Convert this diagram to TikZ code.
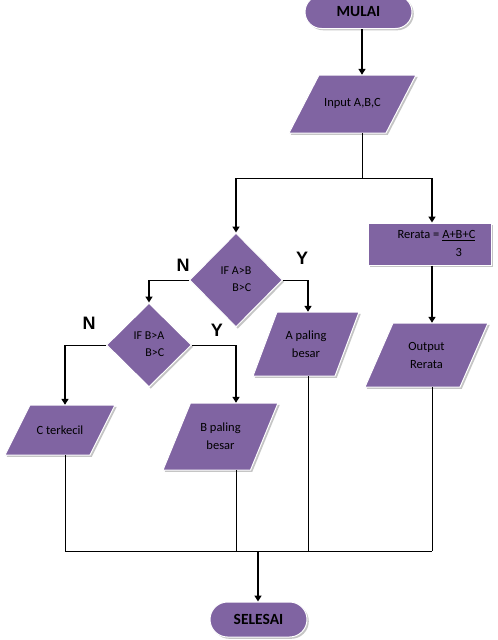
\documentclass[tikz,border=0pt]{standalone}
\usepackage{fontspec}
\setmainfont{Carlito}
\newfontfamily\lblfont{Liberation Sans}
\usetikzlibrary{shapes.geometric,shapes.misc,arrows.meta,shadows}
\definecolor{vio}{HTML}{8064A2}
% name, cx, cy, edge length, height, slant, text
\newcommand\parabox[7]{%
  \path[box] ({#2-(#4+#6)/2},{#3+#5/2}) -- ({#2+(#4-#6)/2},{#3+#5/2})
     -- ({#2+(#4+#6)/2},{#3-#5/2}) -- ({#2-(#4-#6)/2},{#3-#5/2}) -- cycle;
  \node[ptext, minimum width=#4pt, minimum height=#5pt] (#1) at (#2,#3) {#7};
}
\begin{document}
\begin{tikzpicture}[x=1pt,y=-1pt,
  box/.style={fill=vio, draw=white, line width=1pt,
    drop shadow={shadow xshift=1.8pt, shadow yshift=-1.8pt, fill=black!45},
    font=\fontsize{12.5}{18}\selectfont, align=center, inner sep=0pt},
  ptext/.style={font=\fontsize{12.5}{18}\selectfont, align=center, inner sep=0pt},
  term/.style={box, rounded rectangle, font=\fontsize{15.5}{18}\selectfont\bfseries},
  dia/.style={box, diamond, aspect=1, font=\fontsize{12}{17}\selectfont},
  rect/.style={box, rectangle},
  ln/.style={draw=black, line width=0.8pt},
  arr/.style={draw=black, line width=1.6pt, -{Triangle[length=6pt,width=7pt]}},
  yn/.style={font=\lblfont\bfseries\fontsize{18}{18}\selectfont, inner sep=0pt}
]
\useasboundingbox (0,0) rectangle (498,640);

% nodes
\node[term, minimum width=107pt, minimum height=33pt] (mulai) at (358.5,12) {MULAI};
\parabox{input}{352.5}{104}{97}{58}{30}{\raisebox{4pt}{Input A,B,C}}
\node[dia, minimum width=93pt, minimum height=94pt] (d1) at (236,280)
  {\raisebox{7pt}{\begin{tabular}{@{}r@{}}IF A>B\\B>C\end{tabular}}};
\node[rect, minimum width=123pt, minimum height=42pt] (rer) at (429.5,244)
  {\hspace*{14pt}Rerata = \begin{tabular}[t]{@{}c@{}}\underline{A+B+C}\\3\end{tabular}};
\node[dia, minimum width=85pt, minimum height=84pt] (d2) at (149,345)
  {\raisebox{6pt}{\begin{tabular}{@{}r@{}}IF B>A\\B>C\end{tabular}}};
\parabox{pa}{306}{344}{82}{64}{24}{A paling\\besar}
\parabox{out}{426.5}{355}{95}{64}{28}{Output\\Rerata}
\parabox{pc}{60}{430}{85}{50}{25}{C terkecil}
\parabox{pb}{220.5}{436.5}{87.5}{67}{27.5}{B paling\\besar}
\node[term, minimum width=97pt, minimum height=35pt] (sel) at (258.5,619.5) {SELESAI};

% labels
\node[yn] (n1) at (183,265) {N};
\node[yn] (y1) at (302,258) {Y};
\node[yn] (n2) at (89,323) {N};
\node[yn] (y2) at (217,330) {Y};

% junctions
\coordinate (j1) at (362,178);
\coordinate (jl) at (236,178);
\coordinate (jr) at (432,178);
\coordinate (ya) at (308,280);
\coordinate (nc) at (65,345);
\coordinate (nb) at (236,345);
\coordinate (bc) at (65,551);
\coordinate (bb) at (236,551);
\coordinate (ba) at (308,551);
\coordinate (bo) at (432,551);
\coordinate (jb) at (258,551);

% connectors
\draw[arr] (mulai.south -| j1) -- (input.north -| j1);
\draw[ln] (input.south -| j1) -- (j1);
\draw[ln] (jl) -- (jr);
\draw[arr] (jl) -- (d1.north);
\draw[arr] (jr) -- (jr |- rer.north);
\draw[arr] (jr |- rer.south) -- (jr |- out.north);

\draw[ln] (d1.west) -- (d1.west -| d2.north);
\draw[arr] (d1.west -| d2.north) -- (d2.north);
\draw[ln] (d1.east) -- (ya);
\draw[arr] (ya) -- (ya |- pa.north);

\draw[ln] (d2.west) -- (nc);
\draw[arr] (nc) -- (nc |- pc.north);
\draw[ln] (d2.east) -- (nb);
\draw[arr] (nb) -- (nb |- pb.north);

\draw[ln] (bc |- pc.south) -- (bc);
\draw[ln] (bb |- pb.south) -- (bb);
\draw[ln] (ba |- pa.south) -- (ba);
\draw[ln] (bo |- out.south) -- (bo);
\draw[ln] (bc) -- (bo);
\draw[arr] (jb) -- (jb |- sel.north);
\end{tikzpicture}
\end{document}
